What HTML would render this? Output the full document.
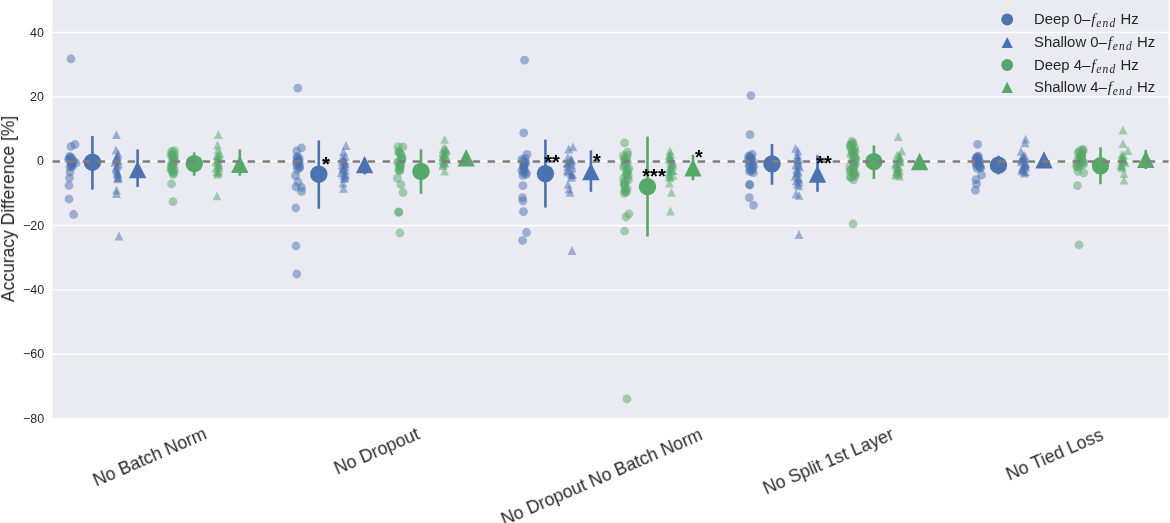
<!DOCTYPE html>
<html><head><meta charset="utf-8"><title>Accuracy Difference</title>
<style>
html,body{margin:0;padding:0;background:#fff;}
body{width:1170px;height:523px;position:relative;overflow:hidden;font-family:"Liberation Sans",sans-serif;color:#262626;}
.yt,.lg,.yl,.xt,.st{will-change:transform;}
.st{position:absolute;width:60px;text-align:center;font-size:20px;line-height:24px;height:24px;color:#000;font-weight:bold;}
.yt{position:absolute;right:1126px;font-size:12.5px;line-height:14px;height:14px;white-space:nowrap;text-align:right;}
.yl{position:absolute;left:7.6px;top:209px;font-size:17.5px;line-height:20px;white-space:nowrap;transform:translate(-50%,-50%) rotate(-90deg);}
.xt{position:absolute;font-size:17.8px;line-height:20px;height:20px;white-space:nowrap;transform-origin:0 0;}
.lg{position:absolute;left:1033.8px;font-size:14.9px;line-height:18px;height:18px;white-space:nowrap;}
.lg i{font-family:"Liberation Serif",serif;font-style:italic;font-size:15.5px;margin-left:1px;}
.lg sub{font-family:"Liberation Serif",serif;font-style:italic;font-size:11.5px;letter-spacing:1.2px;margin-left:0.5px;vertical-align:baseline;position:relative;top:3px;line-height:0;}
</style></head><body>
<svg width="1170" height="523" viewBox="0 0 1170 523" style="position:absolute;left:0;top:0">
<rect x="52.5" y="0" width="1116.0" height="417.7" fill="#EAEAF2"/>
<line x1="52.5" x2="1168.5" y1="32.50" y2="32.50" stroke="#fff" stroke-width="1.4"/>
<line x1="52.5" x2="1168.5" y1="96.85" y2="96.85" stroke="#fff" stroke-width="1.4"/>
<line x1="52.5" x2="1168.5" y1="161.20" y2="161.20" stroke="#fff" stroke-width="1.4"/>
<line x1="52.5" x2="1168.5" y1="225.55" y2="225.55" stroke="#fff" stroke-width="1.4"/>
<line x1="52.5" x2="1168.5" y1="289.90" y2="289.90" stroke="#fff" stroke-width="1.4"/>
<line x1="52.5" x2="1168.5" y1="354.25" y2="354.25" stroke="#fff" stroke-width="1.4"/>
<g fill="#4C72B0" fill-opacity="0.5">
<circle cx="71.0" cy="59.0" r="4.4"/>
<circle cx="75.0" cy="144.5" r="4.4"/>
<circle cx="71.0" cy="146.5" r="4.4"/>
<circle cx="69.6" cy="156.5" r="4.4"/>
<circle cx="70.3" cy="157.5" r="4.4"/>
<circle cx="71.7" cy="157.9" r="4.4"/>
<circle cx="68.5" cy="159.5" r="4.4"/>
<circle cx="69.7" cy="159.9" r="4.4"/>
<circle cx="73.6" cy="161.0" r="4.4"/>
<circle cx="72.7" cy="162.0" r="4.4"/>
<circle cx="71.7" cy="162.6" r="4.4"/>
<circle cx="71.7" cy="164.2" r="4.4"/>
<circle cx="71.1" cy="165.0" r="4.4"/>
<circle cx="71.9" cy="165.3" r="4.4"/>
<circle cx="72.3" cy="166.7" r="4.4"/>
<circle cx="70.0" cy="167.1" r="4.4"/>
<circle cx="76.0" cy="163.0" r="4.4"/>
<circle cx="70.0" cy="172.0" r="4.4"/>
<circle cx="69.5" cy="178.0" r="4.4"/>
<circle cx="69.0" cy="185.5" r="4.4"/>
<circle cx="69.0" cy="199.0" r="4.4"/>
<circle cx="73.6" cy="214.5" r="4.4"/>
</g>
<g fill="#4C72B0" fill-opacity="0.5">
<path d="M116.4 130.2L120.8 139.0L112.0 139.0Z"/>
<path d="M116.0 145.6L120.4 154.4L111.6 154.4Z"/>
<path d="M118.2 149.3L122.6 158.1L113.8 158.1Z"/>
<path d="M117.5 151.4L121.9 160.2L113.1 160.2Z"/>
<path d="M117.5 153.0L121.9 161.8L113.1 161.8Z"/>
<path d="M116.0 154.3L120.4 163.1L111.6 163.1Z"/>
<path d="M116.2 156.0L120.6 164.8L111.8 164.8Z"/>
<path d="M118.2 156.2L122.6 165.0L113.8 165.0Z"/>
<path d="M114.8 157.9L119.2 166.7L110.4 166.7Z"/>
<path d="M118.6 159.8L123.0 168.6L114.2 168.6Z"/>
<path d="M117.1 161.1L121.5 169.9L112.7 169.9Z"/>
<path d="M116.5 162.7L120.9 171.5L112.1 171.5Z"/>
<path d="M115.8 164.5L120.2 173.3L111.4 173.3Z"/>
<path d="M116.9 166.5L121.3 175.3L112.5 175.3Z"/>
<path d="M117.3 168.0L121.7 176.8L112.9 176.8Z"/>
<path d="M118.1 169.6L122.5 178.4L113.7 178.4Z"/>
<path d="M117.3 169.8L121.7 178.6L112.9 178.6Z"/>
<path d="M118.1 172.5L122.5 181.3L113.7 181.3Z"/>
<path d="M118.3 173.5L122.7 182.3L113.9 182.3Z"/>
<path d="M117.5 174.4L121.9 183.2L113.1 183.2Z"/>
<path d="M116.5 185.6L120.9 194.4L112.1 194.4Z"/>
<path d="M116.5 189.1L120.9 197.9L112.1 197.9Z"/>
<path d="M119.0 231.6L123.4 240.4L114.6 240.4Z"/>
</g>
<g fill="#55A868" fill-opacity="0.5">
<circle cx="174.3" cy="150.7" r="4.4"/>
<circle cx="171.8" cy="151.3" r="4.4"/>
<circle cx="174.4" cy="153.6" r="4.4"/>
<circle cx="170.9" cy="154.5" r="4.4"/>
<circle cx="172.4" cy="154.9" r="4.4"/>
<circle cx="171.9" cy="156.9" r="4.4"/>
<circle cx="174.5" cy="157.2" r="4.4"/>
<circle cx="173.3" cy="158.4" r="4.4"/>
<circle cx="173.8" cy="159.9" r="4.4"/>
<circle cx="174.5" cy="161.9" r="4.4"/>
<circle cx="172.8" cy="163.1" r="4.4"/>
<circle cx="171.9" cy="163.2" r="4.4"/>
<circle cx="173.3" cy="164.3" r="4.4"/>
<circle cx="171.4" cy="166.0" r="4.4"/>
<circle cx="173.3" cy="166.9" r="4.4"/>
<circle cx="170.7" cy="168.9" r="4.4"/>
<circle cx="172.0" cy="170.2" r="4.4"/>
<circle cx="174.6" cy="170.7" r="4.4"/>
<circle cx="172.6" cy="172.0" r="4.4"/>
<circle cx="173.5" cy="173.3" r="4.4"/>
<circle cx="173.1" cy="174.5" r="4.4"/>
<circle cx="171.5" cy="184.0" r="4.4"/>
<circle cx="173.0" cy="201.7" r="4.4"/>
</g>
<g fill="#55A868" fill-opacity="0.5">
<path d="M218.3 130.3L222.7 139.1L213.9 139.1Z"/>
<path d="M217.5 140.6L221.9 149.4L213.1 149.4Z"/>
<path d="M218.0 145.6L222.4 154.4L213.6 154.4Z"/>
<path d="M220.0 149.3L224.4 158.1L215.6 158.1Z"/>
<path d="M217.7 151.0L222.1 159.8L213.3 159.8Z"/>
<path d="M216.8 151.8L221.2 160.6L212.4 160.6Z"/>
<path d="M220.2 153.4L224.6 162.2L215.8 162.2Z"/>
<path d="M218.2 154.1L222.6 162.9L213.8 162.9Z"/>
<path d="M217.6 156.3L222.0 165.1L213.2 165.1Z"/>
<path d="M215.8 157.7L220.2 166.5L211.4 166.5Z"/>
<path d="M218.6 158.3L223.0 167.1L214.2 167.1Z"/>
<path d="M218.6 160.2L223.0 169.0L214.2 169.0Z"/>
<path d="M218.8 161.5L223.2 170.3L214.4 170.3Z"/>
<path d="M218.9 163.4L223.3 172.2L214.5 172.2Z"/>
<path d="M215.8 163.8L220.2 172.6L211.4 172.6Z"/>
<path d="M218.8 166.4L223.2 175.2L214.4 175.2Z"/>
<path d="M216.9 167.1L221.3 175.9L212.5 175.9Z"/>
<path d="M218.4 168.3L222.8 177.1L214.0 177.1Z"/>
<path d="M217.4 169.7L221.8 178.5L213.0 178.5Z"/>
<path d="M217.0 191.4L221.4 200.2L212.6 200.2Z"/>
</g>
<g fill="#4C72B0" fill-opacity="0.5">
<circle cx="297.7" cy="88.1" r="4.4"/>
<circle cx="301.5" cy="148.0" r="4.4"/>
<circle cx="296.7" cy="151.0" r="4.4"/>
<circle cx="297.4" cy="156.7" r="4.4"/>
<circle cx="297.1" cy="157.6" r="4.4"/>
<circle cx="299.2" cy="158.4" r="4.4"/>
<circle cx="298.3" cy="160.4" r="4.4"/>
<circle cx="297.1" cy="160.9" r="4.4"/>
<circle cx="299.4" cy="162.1" r="4.4"/>
<circle cx="296.6" cy="163.5" r="4.4"/>
<circle cx="298.9" cy="164.3" r="4.4"/>
<circle cx="297.2" cy="165.7" r="4.4"/>
<circle cx="299.5" cy="167.0" r="4.4"/>
<circle cx="299.6" cy="167.9" r="4.4"/>
<circle cx="297.3" cy="169.6" r="4.4"/>
<circle cx="295.6" cy="175.7" r="4.4"/>
<circle cx="298.0" cy="182.0" r="4.4"/>
<circle cx="296.0" cy="187.0" r="4.4"/>
<circle cx="301.5" cy="187.5" r="4.4"/>
<circle cx="301.5" cy="191.5" r="4.4"/>
<circle cx="295.8" cy="208.0" r="4.4"/>
<circle cx="296.0" cy="246.0" r="4.4"/>
<circle cx="296.8" cy="274.0" r="4.4"/>
</g>
<g fill="#4C72B0" fill-opacity="0.5">
<path d="M346.0 141.2L350.4 150.0L341.6 150.0Z"/>
<path d="M343.5 147.1L347.9 155.9L339.1 155.9Z"/>
<path d="M345.4 152.2L349.8 161.0L341.0 161.0Z"/>
<path d="M342.3 153.0L346.7 161.8L337.9 161.8Z"/>
<path d="M343.7 154.4L348.1 163.2L339.3 163.2Z"/>
<path d="M345.0 156.5L349.4 165.3L340.6 165.3Z"/>
<path d="M342.2 157.1L346.6 165.9L337.8 165.9Z"/>
<path d="M345.0 158.8L349.4 167.6L340.6 167.6Z"/>
<path d="M345.0 159.7L349.4 168.5L340.6 168.5Z"/>
<path d="M341.9 160.9L346.3 169.7L337.5 169.7Z"/>
<path d="M344.9 162.2L349.3 171.0L340.5 171.0Z"/>
<path d="M342.9 163.6L347.3 172.4L338.5 172.4Z"/>
<path d="M343.2 164.9L347.6 173.7L338.8 173.7Z"/>
<path d="M345.5 165.9L349.9 174.7L341.1 174.7Z"/>
<path d="M341.3 168.1L345.7 176.9L336.9 176.9Z"/>
<path d="M345.3 169.5L349.7 178.3L340.9 178.3Z"/>
<path d="M343.3 170.7L347.7 179.5L338.9 179.5Z"/>
<path d="M345.5 171.1L349.9 179.9L341.1 179.9Z"/>
<path d="M344.7 173.1L349.1 181.9L340.3 181.9Z"/>
<path d="M344.3 174.0L348.7 182.8L339.9 182.8Z"/>
<path d="M343.0 178.6L347.4 187.4L338.6 187.4Z"/>
<path d="M343.5 183.9L347.9 192.7L339.1 192.7Z"/>
</g>
<g fill="#55A868" fill-opacity="0.5">
<circle cx="398.0" cy="146.8" r="4.4"/>
<circle cx="402.9" cy="146.8" r="4.4"/>
<circle cx="399.0" cy="151.5" r="4.4"/>
<circle cx="398.8" cy="152.5" r="4.4"/>
<circle cx="400.4" cy="154.2" r="4.4"/>
<circle cx="401.4" cy="155.3" r="4.4"/>
<circle cx="401.8" cy="157.6" r="4.4"/>
<circle cx="401.9" cy="159.3" r="4.4"/>
<circle cx="401.8" cy="160.2" r="4.4"/>
<circle cx="397.8" cy="161.8" r="4.4"/>
<circle cx="398.5" cy="162.6" r="4.4"/>
<circle cx="400.7" cy="164.3" r="4.4"/>
<circle cx="399.6" cy="166.3" r="4.4"/>
<circle cx="400.5" cy="166.9" r="4.4"/>
<circle cx="398.9" cy="169.0" r="4.4"/>
<circle cx="399.9" cy="170.3" r="4.4"/>
<circle cx="399.3" cy="170.9" r="4.4"/>
<circle cx="397.4" cy="178.4" r="4.4"/>
<circle cx="401.0" cy="184.6" r="4.4"/>
<circle cx="403.0" cy="192.5" r="4.4"/>
<circle cx="398.6" cy="211.9" r="4.4"/>
<circle cx="398.8" cy="212.3" r="4.4"/>
<circle cx="399.9" cy="233.0" r="4.4"/>
</g>
<g fill="#55A868" fill-opacity="0.5">
<path d="M444.6 135.0L449.0 143.8L440.2 143.8Z"/>
<path d="M444.8 143.5L449.2 152.3L440.4 152.3Z"/>
<path d="M443.1 144.5L447.5 153.3L438.7 153.3Z"/>
<path d="M446.5 145.6L450.9 154.4L442.1 154.4Z"/>
<path d="M446.1 145.8L450.5 154.6L441.7 154.6Z"/>
<path d="M445.2 147.7L449.6 156.5L440.8 156.5Z"/>
<path d="M442.6 148.2L447.0 157.0L438.2 157.0Z"/>
<path d="M443.5 149.5L447.9 158.3L439.1 158.3Z"/>
<path d="M444.2 150.5L448.6 159.3L439.8 159.3Z"/>
<path d="M445.9 151.0L450.3 159.8L441.5 159.8Z"/>
<path d="M442.6 152.2L447.0 161.0L438.2 161.0Z"/>
<path d="M442.9 153.2L447.3 162.0L438.5 162.0Z"/>
<path d="M446.8 155.1L451.2 163.9L442.4 163.9Z"/>
<path d="M442.7 155.8L447.1 164.6L438.3 164.6Z"/>
<path d="M443.8 156.7L448.2 165.5L439.4 165.5Z"/>
<path d="M443.9 158.1L448.3 166.9L439.5 166.9Z"/>
<path d="M445.0 158.8L449.4 167.6L440.6 167.6Z"/>
<path d="M443.2 159.8L447.6 168.6L438.8 168.6Z"/>
<path d="M442.9 161.1L447.3 169.9L438.5 169.9Z"/>
<path d="M444.6 166.6L449.0 175.4L440.2 175.4Z"/>
</g>
<g fill="#4C72B0" fill-opacity="0.5">
<circle cx="524.5" cy="60.2" r="4.4"/>
<circle cx="523.7" cy="132.9" r="4.4"/>
<circle cx="527.0" cy="154.3" r="4.4"/>
<circle cx="525.1" cy="158.5" r="4.4"/>
<circle cx="521.8" cy="159.4" r="4.4"/>
<circle cx="523.3" cy="161.1" r="4.4"/>
<circle cx="525.5" cy="162.1" r="4.4"/>
<circle cx="525.6" cy="163.5" r="4.4"/>
<circle cx="523.6" cy="164.4" r="4.4"/>
<circle cx="524.0" cy="166.0" r="4.4"/>
<circle cx="523.6" cy="167.2" r="4.4"/>
<circle cx="523.8" cy="167.9" r="4.4"/>
<circle cx="524.2" cy="169.6" r="4.4"/>
<circle cx="521.8" cy="170.5" r="4.4"/>
<circle cx="523.6" cy="172.3" r="4.4"/>
<circle cx="526.3" cy="172.8" r="4.4"/>
<circle cx="526.1" cy="174.5" r="4.4"/>
<circle cx="522.8" cy="175.4" r="4.4"/>
<circle cx="523.0" cy="185.6" r="4.4"/>
<circle cx="522.5" cy="197.7" r="4.4"/>
<circle cx="523.0" cy="201.0" r="4.4"/>
<circle cx="523.5" cy="211.6" r="4.4"/>
<circle cx="526.6" cy="232.5" r="4.4"/>
<circle cx="522.6" cy="240.5" r="4.4"/>
</g>
<g fill="#4C72B0" fill-opacity="0.5">
<path d="M573.0 142.4L577.4 151.2L568.6 151.2Z"/>
<path d="M568.7 144.6L573.1 153.4L564.3 153.4Z"/>
<path d="M567.8 152.8L572.2 161.6L563.4 161.6Z"/>
<path d="M570.9 154.4L575.3 163.2L566.5 163.2Z"/>
<path d="M571.7 155.5L576.1 164.3L567.3 164.3Z"/>
<path d="M571.4 156.8L575.8 165.6L567.0 165.6Z"/>
<path d="M567.7 158.3L572.1 167.1L563.3 167.1Z"/>
<path d="M567.1 159.1L571.5 167.9L562.7 167.9Z"/>
<path d="M571.6 160.5L576.0 169.3L567.2 169.3Z"/>
<path d="M567.6 162.0L572.0 170.8L563.2 170.8Z"/>
<path d="M572.2 163.6L576.6 172.4L567.8 172.4Z"/>
<path d="M567.2 166.0L571.6 174.8L562.8 174.8Z"/>
<path d="M567.8 167.5L572.2 176.3L563.4 176.3Z"/>
<path d="M571.0 169.0L575.4 177.8L566.6 177.8Z"/>
<path d="M572.6 170.0L577.0 178.8L568.2 178.8Z"/>
<path d="M571.7 170.7L576.1 179.5L567.3 179.5Z"/>
<path d="M571.6 172.9L576.0 181.7L567.2 181.7Z"/>
<path d="M568.0 179.9L572.4 188.7L563.6 188.7Z"/>
<path d="M569.0 184.6L573.4 193.4L564.6 193.4Z"/>
<path d="M570.0 187.9L574.4 196.7L565.6 196.7Z"/>
<path d="M572.0 246.1L576.4 254.9L567.6 254.9Z"/>
</g>
<g fill="#55A868" fill-opacity="0.5">
<circle cx="624.6" cy="142.8" r="4.4"/>
<circle cx="627.3" cy="152.2" r="4.4"/>
<circle cx="627.5" cy="155.1" r="4.4"/>
<circle cx="623.4" cy="155.7" r="4.4"/>
<circle cx="626.4" cy="158.1" r="4.4"/>
<circle cx="624.5" cy="158.7" r="4.4"/>
<circle cx="624.5" cy="160.9" r="4.4"/>
<circle cx="627.5" cy="162.2" r="4.4"/>
<circle cx="625.2" cy="163.8" r="4.4"/>
<circle cx="625.1" cy="165.4" r="4.4"/>
<circle cx="623.6" cy="167.1" r="4.4"/>
<circle cx="628.8" cy="168.6" r="4.4"/>
<circle cx="627.4" cy="169.8" r="4.4"/>
<circle cx="627.1" cy="172.3" r="4.4"/>
<circle cx="627.0" cy="173.5" r="4.4"/>
<circle cx="625.9" cy="175.3" r="4.4"/>
<circle cx="628.3" cy="176.1" r="4.4"/>
<circle cx="623.6" cy="178.7" r="4.4"/>
<circle cx="628.4" cy="179.9" r="4.4"/>
<circle cx="625.7" cy="181.8" r="4.4"/>
<circle cx="624.2" cy="182.7" r="4.4"/>
<circle cx="624.2" cy="184.8" r="4.4"/>
<circle cx="624.9" cy="185.8" r="4.4"/>
<circle cx="627.1" cy="188.6" r="4.4"/>
<circle cx="624.8" cy="189.8" r="4.4"/>
<circle cx="625.5" cy="191.6" r="4.4"/>
<circle cx="626.5" cy="192.2" r="4.4"/>
<circle cx="624.3" cy="193.4" r="4.4"/>
<circle cx="629.0" cy="213.8" r="4.4"/>
<circle cx="626.0" cy="217.0" r="4.4"/>
<circle cx="624.6" cy="231.2" r="4.4"/>
<circle cx="627.0" cy="398.9" r="4.4"/>
</g>
<g fill="#55A868" fill-opacity="0.5">
<path d="M670.0 146.4L674.4 155.2L665.6 155.2Z"/>
<path d="M670.9 149.6L675.3 158.4L666.5 158.4Z"/>
<path d="M669.1 150.9L673.5 159.7L664.7 159.7Z"/>
<path d="M670.0 152.7L674.4 161.5L665.6 161.5Z"/>
<path d="M668.9 154.2L673.3 163.0L664.5 163.0Z"/>
<path d="M670.9 155.0L675.3 163.8L666.5 163.8Z"/>
<path d="M670.8 156.6L675.2 165.4L666.4 165.4Z"/>
<path d="M672.9 157.6L677.3 166.4L668.5 166.4Z"/>
<path d="M670.9 159.1L675.3 167.9L666.5 167.9Z"/>
<path d="M673.1 159.9L677.5 168.7L668.7 168.7Z"/>
<path d="M672.4 161.9L676.8 170.7L668.0 170.7Z"/>
<path d="M670.8 162.3L675.2 171.1L666.4 171.1Z"/>
<path d="M669.4 164.2L673.8 173.0L665.0 173.0Z"/>
<path d="M672.0 165.8L676.4 174.6L667.6 174.6Z"/>
<path d="M673.1 166.2L677.5 175.0L668.7 175.0Z"/>
<path d="M669.2 167.5L673.6 176.3L664.8 176.3Z"/>
<path d="M669.2 169.4L673.6 178.2L664.8 178.2Z"/>
<path d="M673.1 170.9L677.5 179.7L668.7 179.7Z"/>
<path d="M669.6 172.1L674.0 180.9L665.2 180.9Z"/>
<path d="M669.9 172.9L674.3 181.7L665.5 181.7Z"/>
<path d="M669.5 178.6L673.9 187.4L665.1 187.4Z"/>
<path d="M671.5 187.9L675.9 196.7L667.1 196.7Z"/>
<path d="M670.5 206.6L674.9 215.4L666.1 215.4Z"/>
</g>
<g fill="#4C72B0" fill-opacity="0.5">
<circle cx="750.9" cy="95.6" r="4.4"/>
<circle cx="750.0" cy="134.6" r="4.4"/>
<circle cx="752.2" cy="154.1" r="4.4"/>
<circle cx="748.9" cy="155.9" r="4.4"/>
<circle cx="749.9" cy="156.5" r="4.4"/>
<circle cx="751.4" cy="157.9" r="4.4"/>
<circle cx="748.4" cy="158.6" r="4.4"/>
<circle cx="750.7" cy="159.8" r="4.4"/>
<circle cx="749.5" cy="161.0" r="4.4"/>
<circle cx="753.4" cy="161.8" r="4.4"/>
<circle cx="751.2" cy="162.6" r="4.4"/>
<circle cx="749.8" cy="164.2" r="4.4"/>
<circle cx="749.0" cy="165.5" r="4.4"/>
<circle cx="753.1" cy="165.7" r="4.4"/>
<circle cx="753.3" cy="167.1" r="4.4"/>
<circle cx="752.4" cy="168.5" r="4.4"/>
<circle cx="749.9" cy="169.5" r="4.4"/>
<circle cx="751.8" cy="170.7" r="4.4"/>
<circle cx="749.8" cy="171.7" r="4.4"/>
<circle cx="753.4" cy="172.7" r="4.4"/>
<circle cx="749.5" cy="184.5" r="4.4"/>
<circle cx="749.8" cy="185.0" r="4.4"/>
<circle cx="749.3" cy="197.7" r="4.4"/>
<circle cx="753.5" cy="205.2" r="4.4"/>
</g>
<g fill="#4C72B0" fill-opacity="0.5">
<path d="M795.5 143.9L799.9 152.7L791.1 152.7Z"/>
<path d="M798.0 146.6L802.4 155.4L793.6 155.4Z"/>
<path d="M797.6 150.8L802.0 159.6L793.2 159.6Z"/>
<path d="M797.4 152.9L801.8 161.7L793.0 161.7Z"/>
<path d="M798.5 155.1L802.9 163.9L794.1 163.9Z"/>
<path d="M797.7 156.0L802.1 164.8L793.3 164.8Z"/>
<path d="M798.2 158.4L802.6 167.2L793.8 167.2Z"/>
<path d="M795.7 160.5L800.1 169.3L791.3 169.3Z"/>
<path d="M798.2 160.9L802.6 169.7L793.8 169.7Z"/>
<path d="M799.6 162.6L804.0 171.4L795.2 171.4Z"/>
<path d="M796.5 165.3L800.9 174.1L792.1 174.1Z"/>
<path d="M797.9 166.7L802.3 175.5L793.5 175.5Z"/>
<path d="M798.2 168.2L802.6 177.0L793.8 177.0Z"/>
<path d="M796.4 169.4L800.8 178.2L792.0 178.2Z"/>
<path d="M795.2 172.0L799.6 180.8L790.8 180.8Z"/>
<path d="M798.7 173.4L803.1 182.2L794.3 182.2Z"/>
<path d="M798.6 174.8L803.0 183.6L794.2 183.6Z"/>
<path d="M796.2 176.5L800.6 185.3L791.8 185.3Z"/>
<path d="M799.3 177.6L803.7 186.4L794.9 186.4Z"/>
<path d="M797.4 179.6L801.8 188.4L793.0 188.4Z"/>
<path d="M798.8 181.5L803.2 190.3L794.4 190.3Z"/>
<path d="M796.0 189.4L800.4 198.2L791.6 198.2Z"/>
<path d="M799.0 191.0L803.4 199.8L794.6 199.8Z"/>
<path d="M799.0 230.1L803.4 238.9L794.6 238.9Z"/>
</g>
<g fill="#55A868" fill-opacity="0.5">
<circle cx="851.9" cy="141.5" r="4.4"/>
<circle cx="853.3" cy="143.1" r="4.4"/>
<circle cx="852.0" cy="144.4" r="4.4"/>
<circle cx="850.5" cy="144.9" r="4.4"/>
<circle cx="850.4" cy="145.9" r="4.4"/>
<circle cx="854.8" cy="147.8" r="4.4"/>
<circle cx="851.0" cy="148.3" r="4.4"/>
<circle cx="852.5" cy="150.2" r="4.4"/>
<circle cx="855.1" cy="151.3" r="4.4"/>
<circle cx="853.6" cy="151.8" r="4.4"/>
<circle cx="852.3" cy="153.0" r="4.4"/>
<circle cx="853.2" cy="154.7" r="4.4"/>
<circle cx="851.1" cy="155.5" r="4.4"/>
<circle cx="854.8" cy="156.4" r="4.4"/>
<circle cx="855.0" cy="158.6" r="4.4"/>
<circle cx="855.9" cy="159.2" r="4.4"/>
<circle cx="853.3" cy="160.6" r="4.4"/>
<circle cx="853.9" cy="162.2" r="4.4"/>
<circle cx="854.2" cy="162.6" r="4.4"/>
<circle cx="855.3" cy="164.0" r="4.4"/>
<circle cx="853.7" cy="165.5" r="4.4"/>
<circle cx="849.8" cy="166.7" r="4.4"/>
<circle cx="854.1" cy="167.6" r="4.4"/>
<circle cx="853.2" cy="168.7" r="4.4"/>
<circle cx="851.0" cy="170.0" r="4.4"/>
<circle cx="850.0" cy="171.1" r="4.4"/>
<circle cx="853.9" cy="172.3" r="4.4"/>
<circle cx="853.4" cy="174.0" r="4.4"/>
<circle cx="855.5" cy="174.3" r="4.4"/>
<circle cx="854.9" cy="176.0" r="4.4"/>
<circle cx="850.1" cy="176.9" r="4.4"/>
<circle cx="851.3" cy="177.7" r="4.4"/>
<circle cx="853.3" cy="179.9" r="4.4"/>
<circle cx="853.0" cy="224.0" r="4.4"/>
</g>
<g fill="#55A868" fill-opacity="0.5">
<path d="M898.3 132.3L902.7 141.1L893.9 141.1Z"/>
<path d="M901.8 146.6L906.2 155.4L897.4 155.4Z"/>
<path d="M897.1 150.6L901.5 159.4L892.7 159.4Z"/>
<path d="M899.0 150.8L903.4 159.6L894.6 159.6Z"/>
<path d="M899.9 152.4L904.3 161.2L895.5 161.2Z"/>
<path d="M900.2 153.7L904.6 162.5L895.8 162.5Z"/>
<path d="M899.2 154.4L903.6 163.2L894.8 163.2Z"/>
<path d="M899.6 156.1L904.0 164.9L895.2 164.9Z"/>
<path d="M899.9 156.7L904.3 165.5L895.5 165.5Z"/>
<path d="M899.3 157.8L903.7 166.6L894.9 166.6Z"/>
<path d="M896.0 158.4L900.4 167.2L891.6 167.2Z"/>
<path d="M895.8 159.7L900.2 168.5L891.4 168.5Z"/>
<path d="M896.2 161.1L900.6 169.9L891.8 169.9Z"/>
<path d="M899.0 162.2L903.4 171.0L894.6 171.0Z"/>
<path d="M897.6 163.5L902.0 172.3L893.2 172.3Z"/>
<path d="M897.0 164.3L901.4 173.1L892.6 173.1Z"/>
<path d="M899.3 165.4L903.7 174.2L894.9 174.2Z"/>
<path d="M896.3 167.0L900.7 175.8L891.9 175.8Z"/>
<path d="M899.1 167.5L903.5 176.3L894.7 176.3Z"/>
<path d="M897.3 168.8L901.7 177.6L892.9 177.6Z"/>
<path d="M898.5 169.6L902.9 178.4L894.1 178.4Z"/>
<path d="M895.4 170.6L899.8 179.4L891.0 179.4Z"/>
<path d="M899.5 171.7L903.9 180.5L895.1 180.5Z"/>
</g>
<g fill="#4C72B0" fill-opacity="0.5">
<circle cx="977.5" cy="144.4" r="4.4"/>
<circle cx="978.3" cy="156.1" r="4.4"/>
<circle cx="977.0" cy="156.8" r="4.4"/>
<circle cx="978.0" cy="157.6" r="4.4"/>
<circle cx="976.0" cy="158.2" r="4.4"/>
<circle cx="976.8" cy="159.2" r="4.4"/>
<circle cx="976.2" cy="159.6" r="4.4"/>
<circle cx="978.2" cy="160.6" r="4.4"/>
<circle cx="979.6" cy="161.1" r="4.4"/>
<circle cx="978.0" cy="162.1" r="4.4"/>
<circle cx="976.0" cy="163.2" r="4.4"/>
<circle cx="977.0" cy="163.3" r="4.4"/>
<circle cx="978.4" cy="164.1" r="4.4"/>
<circle cx="979.1" cy="164.9" r="4.4"/>
<circle cx="976.5" cy="165.4" r="4.4"/>
<circle cx="979.7" cy="166.3" r="4.4"/>
<circle cx="980.0" cy="167.2" r="4.4"/>
<circle cx="980.8" cy="167.8" r="4.4"/>
<circle cx="977.2" cy="168.5" r="4.4"/>
<circle cx="981.5" cy="175.0" r="4.4"/>
<circle cx="976.0" cy="179.6" r="4.4"/>
<circle cx="976.5" cy="184.2" r="4.4"/>
<circle cx="975.4" cy="190.3" r="4.4"/>
</g>
<g fill="#4C72B0" fill-opacity="0.5">
<path d="M1025.6 134.8L1030.0 143.6L1021.2 143.6Z"/>
<path d="M1025.0 138.5L1029.4 147.3L1020.6 147.3Z"/>
<path d="M1021.0 147.0L1025.4 155.8L1016.6 155.8Z"/>
<path d="M1024.9 151.2L1029.3 160.0L1020.5 160.0Z"/>
<path d="M1022.8 151.7L1027.2 160.5L1018.4 160.5Z"/>
<path d="M1024.3 153.7L1028.7 162.5L1019.9 162.5Z"/>
<path d="M1023.9 153.7L1028.3 162.5L1019.5 162.5Z"/>
<path d="M1021.4 154.8L1025.8 163.6L1017.0 163.6Z"/>
<path d="M1022.0 155.8L1026.4 164.6L1017.6 164.6Z"/>
<path d="M1021.5 157.4L1025.9 166.2L1017.1 166.2Z"/>
<path d="M1025.3 158.0L1029.7 166.8L1020.9 166.8Z"/>
<path d="M1025.7 159.3L1030.1 168.1L1021.3 168.1Z"/>
<path d="M1024.9 160.8L1029.3 169.6L1020.5 169.6Z"/>
<path d="M1025.5 160.9L1029.9 169.7L1021.1 169.7Z"/>
<path d="M1022.6 162.5L1027.0 171.3L1018.2 171.3Z"/>
<path d="M1025.5 163.0L1029.9 171.8L1021.1 171.8Z"/>
<path d="M1022.6 164.8L1027.0 173.6L1018.2 173.6Z"/>
<path d="M1021.7 165.4L1026.1 174.2L1017.3 174.2Z"/>
<path d="M1022.7 166.7L1027.1 175.5L1018.3 175.5Z"/>
<path d="M1025.4 167.2L1029.8 176.0L1021.0 176.0Z"/>
<path d="M1024.6 168.8L1029.0 177.6L1020.2 177.6Z"/>
</g>
<g fill="#55A868" fill-opacity="0.5">
<circle cx="1082.6" cy="149.5" r="4.4"/>
<circle cx="1083.3" cy="150.2" r="4.4"/>
<circle cx="1079.3" cy="151.0" r="4.4"/>
<circle cx="1082.2" cy="152.1" r="4.4"/>
<circle cx="1078.2" cy="152.8" r="4.4"/>
<circle cx="1081.7" cy="154.1" r="4.4"/>
<circle cx="1081.6" cy="154.8" r="4.4"/>
<circle cx="1079.9" cy="155.5" r="4.4"/>
<circle cx="1081.6" cy="156.3" r="4.4"/>
<circle cx="1079.7" cy="157.8" r="4.4"/>
<circle cx="1081.4" cy="158.1" r="4.4"/>
<circle cx="1077.9" cy="159.7" r="4.4"/>
<circle cx="1081.1" cy="160.7" r="4.4"/>
<circle cx="1082.9" cy="161.2" r="4.4"/>
<circle cx="1083.1" cy="162.3" r="4.4"/>
<circle cx="1078.7" cy="162.9" r="4.4"/>
<circle cx="1076.7" cy="163.8" r="4.4"/>
<circle cx="1083.6" cy="164.5" r="4.4"/>
<circle cx="1080.5" cy="165.4" r="4.4"/>
<circle cx="1076.7" cy="166.8" r="4.4"/>
<circle cx="1078.0" cy="167.1" r="4.4"/>
<circle cx="1078.0" cy="171.5" r="4.4"/>
<circle cx="1083.7" cy="172.8" r="4.4"/>
<circle cx="1077.5" cy="185.7" r="4.4"/>
<circle cx="1079.0" cy="244.8" r="4.4"/>
</g>
<g fill="#55A868" fill-opacity="0.5">
<path d="M1123.0 125.6L1127.4 134.4L1118.6 134.4Z"/>
<path d="M1123.0 139.1L1127.4 147.9L1118.6 147.9Z"/>
<path d="M1128.0 146.1L1132.4 154.9L1123.6 154.9Z"/>
<path d="M1121.7 150.3L1126.1 159.1L1117.3 159.1Z"/>
<path d="M1123.9 150.7L1128.3 159.5L1119.5 159.5Z"/>
<path d="M1122.1 152.8L1126.5 161.6L1117.7 161.6Z"/>
<path d="M1122.0 153.4L1126.4 162.2L1117.6 162.2Z"/>
<path d="M1123.1 154.7L1127.5 163.5L1118.7 163.5Z"/>
<path d="M1124.0 155.8L1128.4 164.6L1119.6 164.6Z"/>
<path d="M1123.7 156.3L1128.1 165.1L1119.3 165.1Z"/>
<path d="M1121.8 157.2L1126.2 166.0L1117.4 166.0Z"/>
<path d="M1125.2 158.3L1129.6 167.1L1120.8 167.1Z"/>
<path d="M1121.0 160.3L1125.4 169.1L1116.6 169.1Z"/>
<path d="M1121.9 161.3L1126.3 170.1L1117.5 170.1Z"/>
<path d="M1121.3 161.9L1125.7 170.7L1116.9 170.7Z"/>
<path d="M1122.1 163.4L1126.5 172.2L1117.7 172.2Z"/>
<path d="M1124.0 169.1L1128.4 177.9L1119.6 177.9Z"/>
<path d="M1124.0 175.8L1128.4 184.6L1119.6 184.6Z"/>
</g>
<line x1="92.4" x2="92.4" y1="136" y2="189.6" stroke="#4C72B0" stroke-width="2.6"/>
<circle cx="92.4" cy="162.2" r="8.7" fill="#4C72B0"/>
<line x1="137.6" x2="137.6" y1="149.4" y2="187" stroke="#4C72B0" stroke-width="2.6"/>
<path d="M137.6 160.8L146.3 178.2L128.9 178.2Z" fill="#4C72B0"/>
<line x1="194.2" x2="194.2" y1="152.4" y2="175.7" stroke="#55A868" stroke-width="2.6"/>
<circle cx="194.2" cy="163.6" r="8.7" fill="#55A868"/>
<line x1="239.8" x2="239.8" y1="149.4" y2="175.7" stroke="#55A868" stroke-width="2.6"/>
<path d="M239.8 155.6L248.5 173.0L231.1 173.0Z" fill="#55A868"/>
<line x1="318.8" x2="318.8" y1="140.4" y2="208.7" stroke="#4C72B0" stroke-width="2.6"/>
<circle cx="318.8" cy="174.2" r="8.7" fill="#4C72B0"/>
<line x1="364.6" x2="364.6" y1="158" y2="174.4" stroke="#4C72B0" stroke-width="2.6"/>
<path d="M364.6 155.9L373.3 173.3L355.9 173.3Z" fill="#4C72B0"/>
<line x1="421" x2="421" y1="149.3" y2="193.8" stroke="#55A868" stroke-width="2.6"/>
<circle cx="421" cy="171.4" r="8.7" fill="#55A868"/>
<line x1="466.2" x2="466.2" y1="152" y2="166" stroke="#55A868" stroke-width="2.6"/>
<path d="M466.2 149.2L474.9 166.6L457.5 166.6Z" fill="#55A868"/>
<line x1="545.4" x2="545.4" y1="139.6" y2="207.6" stroke="#4C72B0" stroke-width="2.6"/>
<circle cx="545.4" cy="173.6" r="8.7" fill="#4C72B0"/>
<line x1="590.9" x2="590.9" y1="150.3" y2="191.8" stroke="#4C72B0" stroke-width="2.6"/>
<path d="M590.9 162.8L599.6 180.2L582.2 180.2Z" fill="#4C72B0"/>
<line x1="647.5" x2="647.5" y1="136.6" y2="236.5" stroke="#55A868" stroke-width="2.6"/>
<circle cx="647.5" cy="186.6" r="8.7" fill="#55A868"/>
<line x1="693" x2="693" y1="154.8" y2="180.3" stroke="#55A868" stroke-width="2.6"/>
<path d="M693.0 159.1L701.7 176.5L684.3 176.5Z" fill="#55A868"/>
<line x1="772" x2="772" y1="144" y2="184.7" stroke="#4C72B0" stroke-width="2.6"/>
<circle cx="772" cy="163.9" r="8.7" fill="#4C72B0"/>
<line x1="817.5" x2="817.5" y1="155.2" y2="191.8" stroke="#4C72B0" stroke-width="2.6"/>
<path d="M817.5 165.3L826.2 182.7L808.8 182.7Z" fill="#4C72B0"/>
<line x1="873.9" x2="873.9" y1="145.4" y2="179" stroke="#55A868" stroke-width="2.6"/>
<circle cx="873.9" cy="161.7" r="8.7" fill="#55A868"/>
<line x1="919.6" x2="919.6" y1="156" y2="169" stroke="#55A868" stroke-width="2.6"/>
<path d="M919.6 152.8L928.3 170.2L910.9 170.2Z" fill="#55A868"/>
<line x1="998.4" x2="998.4" y1="155.7" y2="174.4" stroke="#4C72B0" stroke-width="2.6"/>
<circle cx="998.4" cy="165.2" r="8.7" fill="#4C72B0"/>
<line x1="1044" x2="1044" y1="155" y2="168" stroke="#4C72B0" stroke-width="2.6"/>
<path d="M1044.0 151.2L1052.7 168.6L1035.3 168.6Z" fill="#4C72B0"/>
<line x1="1100.5" x2="1100.5" y1="147.4" y2="184.2" stroke="#55A868" stroke-width="2.6"/>
<circle cx="1100.5" cy="165.8" r="8.7" fill="#55A868"/>
<line x1="1145.8" x2="1145.8" y1="149.8" y2="169" stroke="#55A868" stroke-width="2.6"/>
<path d="M1145.8 150.6L1154.5 168.0L1137.1 168.0Z" fill="#55A868"/>
<line x1="52.6" x2="1168.5" y1="161.5" y2="161.5" stroke="#7f7f7f" stroke-width="2.5" stroke-dasharray="7.5 7.5"/>
<circle cx="1007.2" cy="19.5" r="5.9" fill="#4C72B0"/>
<path d="M1007.2 36.9L1012.8 48.1L1001.6 48.1Z" fill="#4C72B0"/>
<circle cx="1007.2" cy="65" r="5.9" fill="#55A868"/>
<path d="M1007.2 81.7L1012.8 92.9L1001.6 92.9Z" fill="#55A868"/>
</svg>
<div class="yt" style="top:25.6px">40</div>
<div class="yt" style="top:89.9px">20</div>
<div class="yt" style="top:154.3px">0</div>
<div class="yt" style="top:218.6px">−20</div>
<div class="yt" style="top:283.0px">−40</div>
<div class="yt" style="top:347.4px">−60</div>
<div class="yt" style="top:411.7px">−80</div>
<div class="yl">Accuracy Difference [%]</div>
<div class="st" style="left:295.6px;top:151.6px">*</div>
<div class="st" style="left:522.2px;top:150.2px">**</div>
<div class="st" style="left:567.3px;top:148.7px">*</div>
<div class="st" style="left:623.7px;top:163.9px">***</div>
<div class="st" style="left:669.1px;top:145.0px">*</div>
<div class="st" style="left:793.9px;top:150.8px">**</div>
<div class="xt" style="left:89.6px;top:472.3px;transform:rotate(-23.5deg)">No Batch Norm</div>
<div class="xt" style="left:330.5px;top:460.1px;transform:rotate(-23.5deg)">No Dropout</div>
<div class="xt" style="left:498.0px;top:510.6px;transform:rotate(-23.5deg)">No Dropout No Batch Norm</div>
<div class="xt" style="left:759.8px;top:479.8px;transform:rotate(-23.5deg)">No Split 1st Layer</div>
<div class="xt" style="left:1003.3px;top:465.6px;transform:rotate(-23.5deg)">No Tied Loss</div>
<div class="lg" style="top:10.0px">Deep 0–<i>f</i><sub>end</sub> Hz</div>
<div class="lg" style="top:33.0px">Shallow 0–<i>f</i><sub>end</sub> Hz</div>
<div class="lg" style="top:55.5px">Deep 4–<i>f</i><sub>end</sub> Hz</div>
<div class="lg" style="top:77.8px">Shallow 4–<i>f</i><sub>end</sub> Hz</div>
</body></html>
